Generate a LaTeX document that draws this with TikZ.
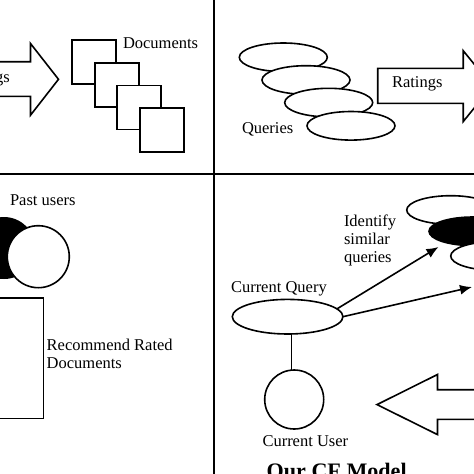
\documentclass[tikz,border=0pt]{standalone}
\usepackage{fontspec}
\setmainfont{Liberation Serif}
\usetikzlibrary{shapes.geometric,arrows.meta}
\begin{document}
\begin{tikzpicture}[x=1pt,y=-1pt,
  every node/.style={inner sep=0pt,outer sep=0pt},
  lbl/.style={anchor=base west,font=\fontsize{16.5}{18.5}\selectfont},
  shp/.style={draw=black,line width=1.6pt,line join=miter},
  doc/.style={shp,fill=white,rectangle,minimum size=44pt},
  qry/.style={shp,fill=white,ellipse,minimum width=88pt,minimum height=28.6pt},
  grid/.style={line width=1.8pt},
  conn/.style={line width=1.6pt},
  arr/.style={conn,-{Latex[length=12pt,width=10pt]}}]
\clip (0,0) rectangle (474,474);
\fill[white] (0,0) rectangle (474,474);
% grid
\draw[grid] (214.3,0) -- (214.3,474);
\draw[grid] (0,174.3) -- (474,174.3);
% ---- top left panel
\draw[shp] (-10,61.7) -- (30.5,61.7) -- (30.5,43.5) -- (58.5,79.3) -- (30.5,115.2) -- (30.5,96.3) -- (-10,96.3) -- cycle;
\node[lbl,anchor=base east] (gs) at (9.7,82) {gs};
\node[doc] (d1) at (94,62.2) {};
\node[doc] (d2) at (116.7,84.8) {};
\node[doc] (d3) at (139.2,107.4) {};
\node[doc] (d4) at (161.7,129.8) {};
\node[lbl] (doclbl) at (123,48.3) {Documents};
% ---- top right panel
\node[qry] (q1) at (283.3,57.3) {};
\node[qry] (q2) at (306,80) {};
\node[qry] (q3) at (328.7,102.6) {};
\node[qry] (q4) at (351,125.8) {};
\node[lbl] (qlbl) at (242,133.3) {Queries};
\draw[shp] (377.7,68.4) -- (463.2,68.4) -- (463.2,50.7) -- (492,86) -- (463.2,121.6) -- (463.2,103.3) -- (377.7,103.3) -- cycle;
\node[lbl] (rlbl) at (392,87.3) {Ratings};
% ---- bottom left panel
\node[lbl] (pu) at (10,205) {Past users};
\fill[black] (4,248) circle (31);
\draw[shp,fill=white] (38.3,256.7) circle (31);
\draw[shp] (-5,298) rectangle (43.6,418.6);
\node[lbl] (rec1) at (46.7,350.3) {Recommend Rated};
\node[lbl] (rec2) at (46.7,368.7) {Documents};
% ---- bottom right panel
\node[qry] (sa) at (450.7,210) {};
\node[qry,fill=black] (sb) at (473,231.3) {};
\node[qry] (sc) at (494.7,256) {};
\node[lbl] (id1) at (344,226.7) {Identify};
\node[lbl] (id2) at (344,244.5) {similar};
\node[lbl] (id3) at (344,262.5) {queries};
\node[shp,ellipse,minimum width=110.6pt,minimum height=34.6pt] (cq) at (287.6,316.7) {};
\node[lbl] (cqlbl) at (231,292.7) {Current Query};
\node[shp,circle,minimum size=59pt] (cu) at (294.2,399.5) {};
\node[lbl] (culbl) at (262.5,446.5) {Current User};
\coordinate (lx) at (291.4,0);
\draw[conn] (lx |- cq.south) -- (lx |- cu.north);
\coordinate (t1) at (438.5,247);
\coordinate (t2) at (472,287);
\draw[arr] (cq.9) -- (t1);
\draw[arr] (cq.east) -- (t2);
\draw[shp] (500,389.7) -- (437.5,389.7) -- (437.5,374.5) -- (377,404.6) -- (437.5,434.6) -- (437.5,419.3) -- (500,419.3);
\node[anchor=base west,font=\fontsize{22.1}{24}\selectfont\bfseries] (title) at (266.7,478.5) {Our CF Model};
\end{tikzpicture}
\end{document}
